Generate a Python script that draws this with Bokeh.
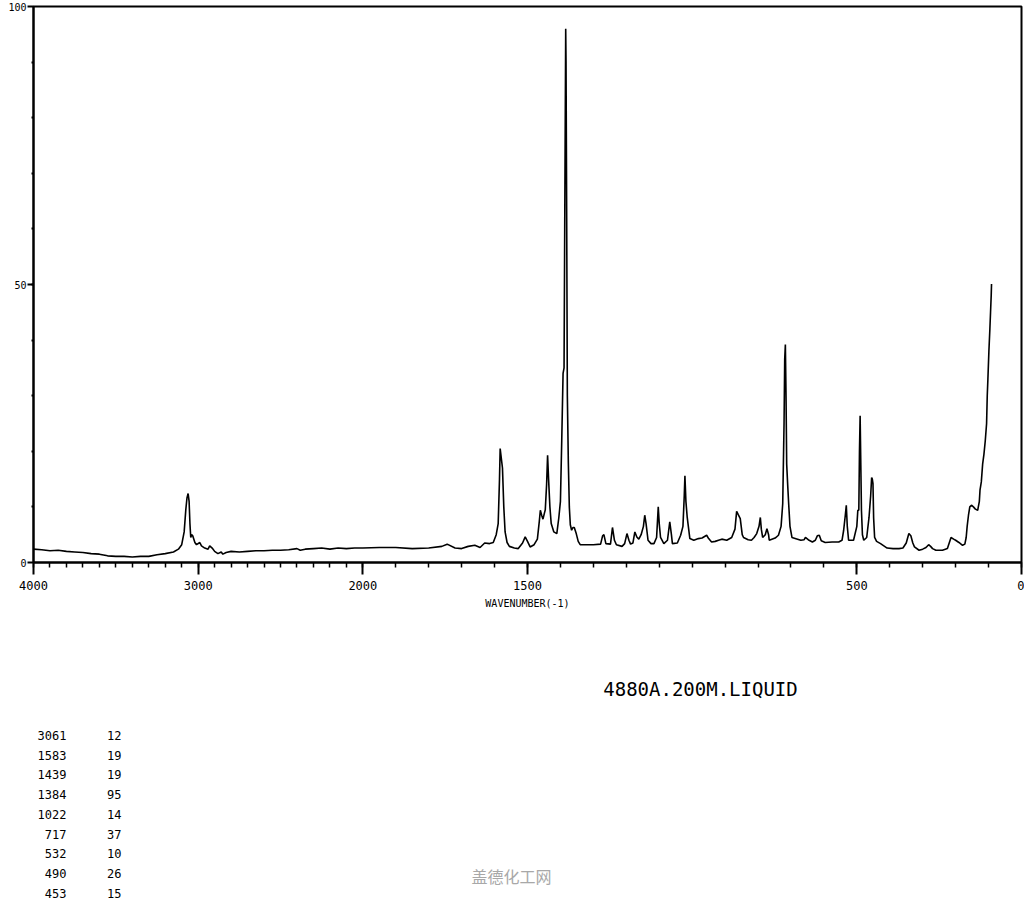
import numpy as np
from bokeh.plotting import figure
from bokeh.layouts import column
from bokeh.models import ColumnDataSource, FixedTicker, Range1d
from bokeh.core.properties import value
from bokeh.embed import file_html
from bokeh.resources import INLINE

# ---- data ----
wavenumber = [
    4000, 3950, 3900, 3850, 3800, 3750, 3700, 3650, 3600, 3550, 3500, 3450, 3400, 3350,
    3300, 3250, 3200, 3150, 3120, 3100, 3085, 3075, 3068, 3061, 3055, 3050, 3045, 3040,
    3033, 3020, 3010, 2990, 2980, 2960, 2940, 2930, 2915, 2900, 2880, 2860, 2850, 2830,
    2800, 2750, 2700, 2650, 2600, 2550, 2500, 2450, 2400, 2380, 2350, 2300, 2250, 2200,
    2150, 2100, 2050, 2000, 1950, 1900, 1850, 1800, 1760, 1744, 1720, 1700, 1680, 1660,
    1644, 1630, 1615, 1604, 1595, 1589, 1585, 1583, 1576, 1572, 1568, 1562, 1555, 1540,
    1528, 1515, 1507, 1500, 1492, 1480, 1470, 1464, 1461, 1457, 1453, 1449, 1446, 1442,
    1439, 1436, 1432, 1428, 1420, 1411, 1405, 1400, 1396, 1392, 1389, 1387, 1384, 1383,
    1381, 1379, 1376, 1373, 1370, 1366, 1362, 1358, 1352, 1346, 1340, 1300, 1278, 1272,
    1268, 1262, 1248, 1242, 1236, 1230, 1213, 1205, 1198, 1192, 1187, 1180, 1174, 1168,
    1162, 1155, 1148, 1144, 1140, 1134, 1125, 1116, 1108, 1103, 1100, 1096, 1086, 1075,
    1068, 1063, 1060, 1045, 1035, 1028, 1024, 1022, 1019, 1015, 1007, 995, 981, 970,
    956, 950, 941, 930, 920, 910, 895, 880, 870, 865, 860, 854, 848, 844, 830, 820, 812,
    804, 797, 793, 790, 786, 778, 773, 768, 766, 748, 738, 730, 725, 721, 719, 717, 715,
    713, 710, 707, 703, 697, 680, 670, 660, 656, 645, 635, 626, 620, 614, 608, 596, 575,
    555, 545, 540, 535, 532, 529, 525, 519, 510, 500, 497, 494, 492, 490, 488, 486, 483,
    479, 470, 463, 458, 455, 453, 451, 449, 446, 440, 428, 418, 408, 390, 372, 360, 350,
    342, 336, 330, 325, 311, 300, 290, 282, 276, 270, 260, 240, 225, 214, 206, 200, 190,
    179, 172, 168, 165, 161, 157, 152, 146, 140, 133, 128, 126, 122, 118, 114, 110, 106,
    104, 102, 99, 96, 94, 92, 91,
]
intensity = [
    2.4, 2.3, 2.1, 2.2, 2.0, 1.9, 1.8, 1.6, 1.5, 1.2, 1.1, 1.1, 1.0, 1.1,
    1.1, 1.4, 1.6, 1.9, 2.4, 3.2, 5.5, 9.5, 11.6, 12.4, 11.0, 7.0, 4.5, 5.0,
    4.8, 3.6, 3.2, 3.6, 3.0, 2.6, 2.4, 3.0, 2.6, 2.0, 1.6, 1.9, 1.5, 1.8,
    2.0, 1.9, 2.0, 2.1, 2.1, 2.2, 2.2, 2.3, 2.5, 2.2, 2.4, 2.5, 2.6, 2.4,
    2.6, 2.5, 2.6, 2.6, 2.7, 2.7, 2.5, 2.6, 2.9, 3.3, 2.6, 2.5, 2.9, 3.1,
    2.7, 3.5, 3.4, 3.6, 5.0, 7.0, 15.0, 20.5, 17.0, 10.0, 5.5, 3.6, 2.9, 2.6,
    2.5, 3.5, 4.6, 3.8, 2.8, 3.2, 4.2, 7.5, 9.4, 8.5, 7.8, 8.8, 9.5, 14.0,
    19.3, 15.0, 10.0, 7.0, 5.5, 5.2, 8.0, 11.0, 22.0, 34.0, 35.0, 60.0, 96.0, 90.0,
    62.0, 30.0, 18.0, 10.0, 6.8, 5.8, 6.3, 6.3, 5.2, 3.8, 3.2, 3.2, 3.3, 4.8,
    5.0, 3.4, 3.3, 6.3, 4.0, 3.2, 2.9, 3.4, 5.2, 4.0, 3.3, 3.5, 5.5, 4.6,
    4.2, 5.0, 6.5, 8.5, 7.0, 4.0, 3.4, 3.4, 4.5, 10.0, 7.0, 4.5, 3.4, 4.0,
    7.3, 5.0, 3.4, 3.5, 4.9, 6.5, 12.0, 15.6, 11.0, 8.1, 4.3, 4.0, 4.3, 4.4,
    4.9, 4.3, 3.7, 3.8, 4.0, 4.2, 4.0, 4.5, 6.0, 9.2, 8.6, 7.9, 5.0, 4.5, 4.1, 4.0, 4.5,
    5.2, 6.5, 8.1, 6.0, 4.5, 5.0, 6.1, 5.0, 4.0, 4.4, 4.9, 6.5, 10.6, 25.0, 36.6, 39.2, 30.0,
    17.7, 14.0, 10.6, 6.5, 4.5, 4.2, 4.0, 4.1, 4.5, 4.0, 3.7, 4.0, 4.8, 4.9, 3.9, 3.6, 3.7,
    3.7, 4.0, 5.8, 8.5, 10.3, 6.5, 4.0, 4.0, 4.0, 6.5, 9.4, 9.4, 20.0, 26.4, 18.0, 9.4, 5.0,
    4.0, 4.5, 8.1, 12.0, 15.3, 15.0, 14.2, 8.0, 4.5, 3.8, 3.4, 3.0, 2.6, 2.5, 2.5, 2.6, 3.5,
    5.2, 4.8, 3.5, 2.8, 2.2, 2.4, 2.7, 3.2, 2.9, 2.5, 2.2, 2.2, 2.5, 4.5, 4.2, 4.0, 3.6,
    3.1, 3.3, 4.5, 6.5, 8.5, 10.0, 10.3, 10.0, 9.6, 9.4, 11.0, 13.0, 14.5, 17.7, 19.5, 21.9, 25.0,
    30.0, 33.0, 38.0, 42.0, 45.0, 48.0, 50.1,
]

x_tick_values = [4000, 3000, 2000, 1500, 500, 0]
x_tick_labels = ["4000", "3000", "2000", "1500", "500", "0"]
y_tick_values = [0, 50, 100]
y_tick_labels = ["0", "50", "100"]

peak_positions = ["3061", "1583", "1439", "1384", "1022", "717", "532", "490", "453"]
peak_heights = ["12", "19", "19", "95", "14", "37", "10", "26", "15"]

sample_note = "4880A.200M.LIQUID"
x_title = "WAVENUMBER(-1)"
watermark = "盖德化工网"


# Chart scale changes at 2000 cm-1 (half scale above 2000)
def to_u(w):
    w = np.asarray(w, dtype=float)
    return np.where(w >= 2000, (4000.0 - w) * 0.5, 1000.0 + (2000.0 - w))


src = ColumnDataSource(data=dict(u=to_u(wavenumber), y=intensity))

W = 1024
TOP_H = 625
BOT_H = 900 - TOP_H
MONO = "DejaVu Sans Mono"
FR_L, FR_R = 33, 1021

p = figure(width=W, height=TOP_H, output_backend="svg", toolbar_location=None,
           x_range=Range1d(0, 3000), y_range=Range1d(0, 100),
           min_border_left=FR_L, min_border_right=W - FR_R, min_border_top=6,
           min_border_bottom=TOP_H - 562)
p.background_fill_color = "white"
p.border_fill_color = "white"
p.outline_line_color = "black"
p.outline_line_width = 2
p.grid.visible = False

p.line("u", "y", source=src, line_color="black", line_width=1.6)

xu = [float(v) for v in to_u(x_tick_values)]
p.xaxis.ticker = FixedTicker(ticks=xu,
                             minor_ticks=[float(v) for v in to_u(list(range(0, 4001, 100)))])
p.xaxis.major_label_overrides = {v: s for v, s in zip(xu, x_tick_labels)}
p.xaxis.axis_line_width = 2
p.xaxis.major_tick_line_width = 2
p.xaxis.minor_tick_line_width = 1.5
p.xaxis.major_tick_out = 12
p.xaxis.major_tick_in = 0
p.xaxis.minor_tick_out = 5
p.xaxis.minor_tick_in = 0
p.xaxis.major_label_standoff = 6
p.xaxis.major_label_text_font = MONO
p.xaxis.major_label_text_font_size = "12px"
p.xaxis.major_label_text_color = "black"
p.xaxis.axis_label = x_title
p.xaxis.axis_label_text_font = MONO
p.xaxis.axis_label_text_font_size = "10px"
p.xaxis.axis_label_text_font_style = "normal"
p.xaxis.axis_label_text_color = "black"
p.xaxis.axis_label_standoff = 5

p.yaxis.ticker = FixedTicker(ticks=y_tick_values, minor_ticks=list(range(10, 100, 10)))
p.yaxis.major_label_overrides = {v: s for v, s in zip(y_tick_values, y_tick_labels)}
p.yaxis.axis_line_width = 2
p.yaxis.major_tick_line_width = 2
p.yaxis.minor_tick_line_width = 2
p.yaxis.major_tick_out = 6
p.yaxis.major_tick_in = 0
p.yaxis.minor_tick_out = 2
p.yaxis.minor_tick_in = 0
p.yaxis.major_label_standoff = 1
p.yaxis.major_label_text_font = MONO
p.yaxis.major_label_text_font_size = "10px"
p.yaxis.major_label_text_color = "black"

# ---- lower text panel: its frame is aligned with the chart frame (x 33..1021),
# so ranges are given in page pixels ----
q = figure(width=W, height=BOT_H, output_backend="svg", toolbar_location=None,
           x_range=Range1d(FR_L, FR_R), y_range=Range1d(900, TOP_H),
           min_border_left=FR_L, min_border_right=W - FR_R,
           min_border_top=0, min_border_bottom=0)
q.axis.visible = False
q.grid.visible = False
q.outline_line_color = None
q.background_fill_color = "white"
q.border_fill_color = "white"

q.text(x=[700], y=[688], text=[sample_note], text_font=value(MONO),
       text_font_size="19px", text_align="center", text_baseline="middle",
       text_color="black")

rows_y = [735 + 19.7 * i for i in range(len(peak_positions))]
q.text(x=[66] * len(peak_positions), y=rows_y, text=peak_positions, text_font=value(MONO),
       text_font_size="12px", text_align="right", text_baseline="middle", text_color="black")
q.text(x=[121] * len(peak_heights), y=rows_y, text=peak_heights, text_font=value(MONO),
       text_font_size="12px", text_align="right", text_baseline="middle", text_color="black")

q.text(x=[511], y=[875], text=[watermark], text_font=value("Noto Sans CJK SC"),
       text_font_size="16px", text_align="center", text_baseline="middle",
       text_color="#a8a8a8")

layout = column(p, q, spacing=0)
open("out.html", "w").write(file_html(layout, INLINE))
